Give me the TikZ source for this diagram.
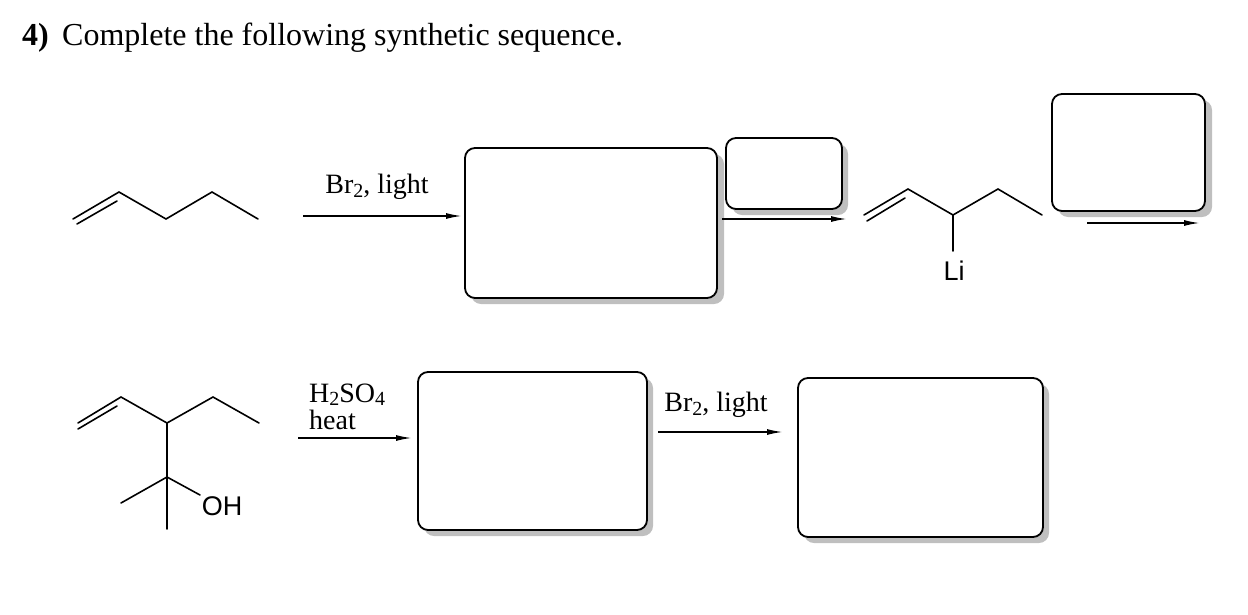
\documentclass[tikz,border=0pt]{standalone}
\usepackage{fontspec}
\usetikzlibrary{arrows.meta}
\setmainfont{Liberation Serif}
\newfontfamily\sansf{Liberation Sans}
\newcommand{\sbs}[1]{\raisebox{-0.3ex}{\fontsize{20}{22}\selectfont #1}}
\begin{document}
\begin{tikzpicture}[x=1pt,y=-1pt,
  bond/.style={line width=1.6pt,line cap=round},
  arr/.style={line width=1.6pt,-{Latex[length=16pt,width=6pt]}},
  box/.style={draw=black,line width=1.8pt,rounded corners=10pt,fill=white},
  shadow/.style={fill=black!25,rounded corners=10pt,draw=none},
  lbl/.style={font=\fontsize{28}{30}\selectfont,inner sep=0pt},
  atom/.style={font=\sansf\fontsize{27}{29}\selectfont,inner sep=0pt}]
\useasboundingbox (0,0) rectangle (1248,614);
\node[anchor=base west,font=\fontsize{32}{34}\selectfont,inner sep=0pt] (title) at (22,45) {\textbf{4)}\, Complete the following synthetic sequence.};
% row 1 molecule
\draw[bond] (73,219)--(119,192)--(166,219)--(212,192)--(258,219);
\draw[bond] (77,224)--(117,201);
\node[lbl] (l1) at (377,187) {Br\sbs{2}, light};
\coordinate (a1s) at (303,216); \coordinate (a1e) at (462,216);
\draw[arr] (a1s)--(a1e);
\fill[shadow] (471,154) rectangle (724,304);
\draw[box] (465,148) rectangle (717,298);
\fill[shadow] (732,144) rectangle (848,215);
\draw[box] (726,138) rectangle (842,209);
\coordinate (a2s) at (722,219); \coordinate (a2e) at (847,219);
\draw[arr] (a2s)--(a2e);
\draw[bond] (864,215)--(908,189)--(953,215)--(998,189)--(1042,215);
\draw[bond] (867,221)--(905,198);
\draw[bond] (953,215)--(953,251);
\node[atom] (li) at (954,271) {Li};
\fill[shadow] (1058,100) rectangle (1212,217);
\draw[box] (1052,94) rectangle (1205,211);
\coordinate (a3s) at (1087,223); \coordinate (a3e) at (1200,223);
\draw[arr] (a3s)--(a3e);
% row 2 molecule
\draw[bond] (78,423)--(121,397)--(167,423)--(213,397)--(259,423);
\draw[bond] (78,429)--(117,406);
\draw[bond] (167,423)--(167,529);
\draw[bond] (121,503)--(167,477)--(200,495);
\node[atom] (oh) at (222,506) {OH};
\node[lbl,anchor=base west] (h2so4) at (309,402) {H\sbs{2}SO\sbs{4}};
\node[lbl,anchor=base west] (heat) at (309,429) {heat};
\coordinate (a4s) at (298,438); \coordinate (a4e) at (412,438);
\draw[arr] (a4s)--(a4e);
\fill[shadow] (424,378) rectangle (653,536);
\draw[box] (418,372) rectangle (647,530);
\node[lbl] (l2) at (716,405) {Br\sbs{2}, light};
\coordinate (a5s) at (658,432); \coordinate (a5e) at (783,432);
\draw[arr] (a5s)--(a5e);
\fill[shadow] (804,384) rectangle (1049,543);
\draw[box] (798,378) rectangle (1043,537);
\end{tikzpicture}
\end{document}
